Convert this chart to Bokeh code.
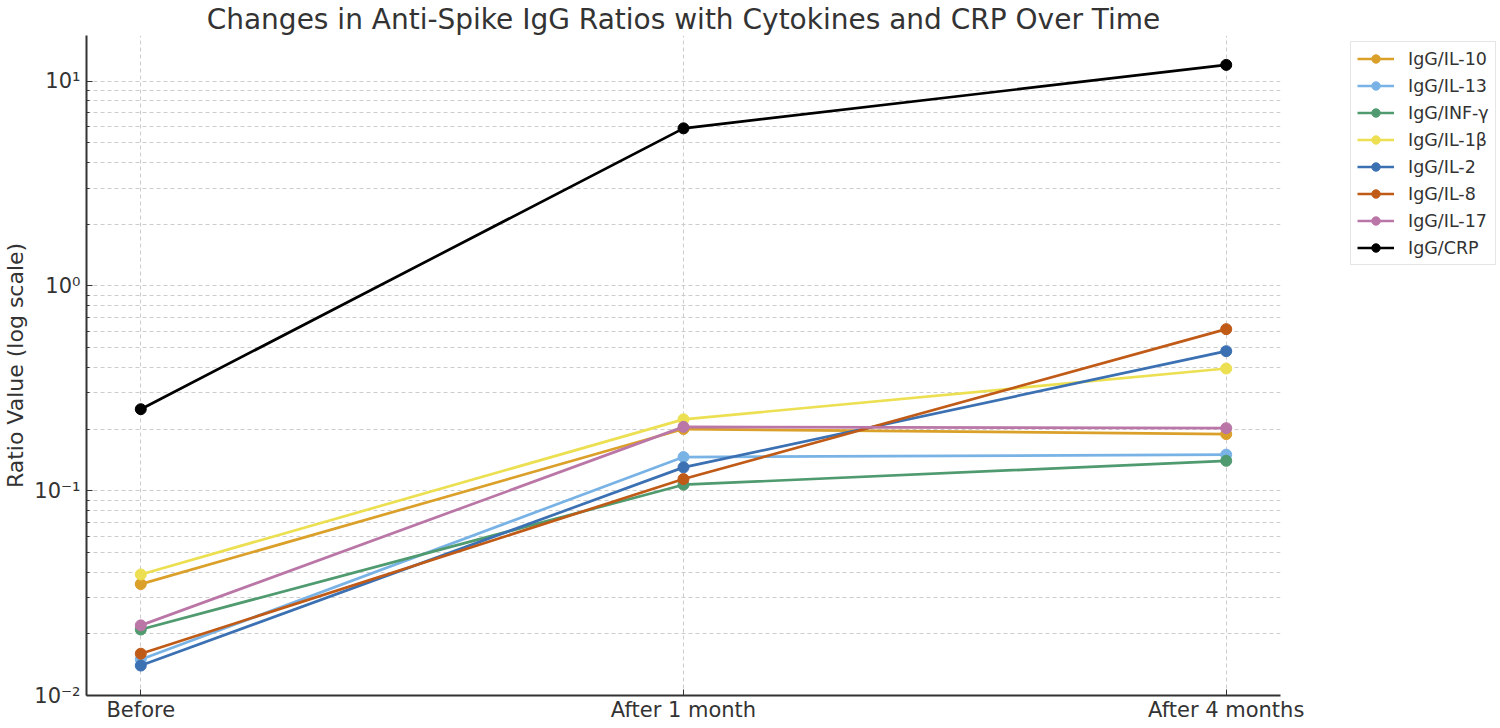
from bokeh.plotting import figure
from bokeh.models import Range1d, FixedTicker, Legend, LegendItem, CustomJSTickFormatter
from bokeh.embed import file_html
from bokeh.resources import INLINE

categories = ["Before", "After 1 month", "After 4 months"]

il10 = [0.035, 0.200, 0.189]
il13 = [0.015, 0.146, 0.150]
infg = [0.021, 0.107, 0.140]
il1b = [0.039, 0.223, 0.395]
il2 = [0.014, 0.130, 0.480]
il8 = [0.016, 0.114, 0.615]
il17 = [0.022, 0.205, 0.202]
crp = [0.25, 5.88, 12.0]

series = [
    ("IgG/IL-10", il10, "#DAA02A"),
    ("IgG/IL-13", il13, "#79B3E6"),
    ("IgG/INF-γ", infg, "#4F9A6F"),
    ("IgG/IL-1β", il1b, "#ECE052"),
    ("IgG/IL-2", il2, "#3B70B2"),
    ("IgG/IL-8", il8, "#C05A17"),
    ("IgG/IL-17", il17, "#B976A6"),
    ("IgG/CRP", crp, "#000000"),
]

FONT = "DejaVu Sans"
TXT = "#333333"

FRAME_H = 660

p = figure(
    frame_width=1194, frame_height=FRAME_H,
    x_range=Range1d(-0.1, 2.1), y_range=Range1d(0.01, 16.7),
    y_axis_type="log",
    title="Changes in Anti-Spike IgG Ratios with Cytokines and CRP Over Time",
    output_backend="svg", toolbar_location=None,
    min_border_left=79, min_border_right=10, min_border_top=20, min_border_bottom=10,
)
p.outline_line_color = None
p.background_fill_color = "white"

p.title.align = "center"
p.title.text_font = FONT
p.title.text_font_size = "28px"
p.title.text_font_style = "normal"
p.title.text_color = TXT
p.title.standoff = 0

xs = list(range(len(categories)))
items = []
for name, vals, col in series:
    r1 = p.line(xs, vals, line_color=col, line_width=2.7)
    r2 = p.scatter(xs, vals, size=11, fill_color=col, line_color=col)
    items.append(LegendItem(label=name, renderers=[r1, r2]))

# x axis
p.xaxis.ticker = FixedTicker(ticks=xs)
p.xaxis.major_label_overrides = dict(enumerate(categories))
# y axis
majors = [0.01, 0.1, 1, 10]
minors = [m * 10.0 ** e for e in range(-2, 2) for m in range(2, 10)]
p.yaxis.ticker = FixedTicker(ticks=majors, minor_ticks=minors)
p.yaxis.formatter = CustomJSTickFormatter(code="""
    const sup = {"-": "\u207b", "0": "\u2070", "1": "\u00b9", "2": "\u00b2", "3": "\u00b3"};
    const e = Math.round(Math.log10(tick));
    return "10" + String(e).split("").map(c => sup[c]).join("");
""")
p.yaxis.axis_label = "Ratio Value (log scale)"

for ax in (p.xaxis, p.yaxis):
    ax.axis_line_color = TXT
    ax.axis_line_width = 2
    ax.major_tick_line_color = TXT
    ax.minor_tick_line_color = TXT
    ax.major_tick_in = 6
    ax.major_tick_out = 0
    ax.minor_tick_in = 3
    ax.minor_tick_out = 0
    ax.major_label_text_font = FONT
    ax.major_label_text_font_size = "21px"
    ax.major_label_text_color = TXT
    ax.axis_label_text_font = FONT
    ax.axis_label_text_font_size = "22px"
    ax.axis_label_text_font_style = "normal"
    ax.axis_label_text_color = TXT
p.xaxis.minor_tick_line_color = None
p.xaxis.major_label_standoff = 2
p.yaxis.major_label_standoff = 6
p.yaxis.axis_label_standoff = 3

p.xgrid.grid_line_color = "#cccccc"
p.xgrid.grid_line_dash = "4 3"
p.ygrid.grid_line_color = "#cccccc"
p.ygrid.grid_line_dash = "4 3"
p.ygrid.minor_grid_line_color = "#cccccc"
p.ygrid.minor_grid_line_dash = "4 3"

LEG_H = 220
legend = Legend(
    items=items, location=(70, FRAME_H - 10 - LEG_H),
    label_text_font=FONT, label_text_font_size="17.5px", label_text_color=TXT,
    glyph_width=37, glyph_height=21, label_height=21, label_standoff=14,
    spacing=6, padding=6, margin=0,
    border_line_color="#cccccc", border_line_width=1.5,
    background_fill_color="white", background_fill_alpha=0.9,
)
p.add_layout(legend, "right")
p.min_border_right = 218

open("out.html", "w").write(file_html(p, INLINE))
